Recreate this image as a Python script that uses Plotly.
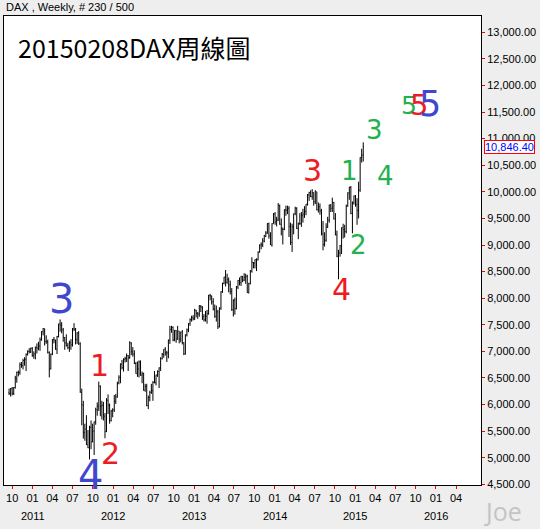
import pandas as pd
import plotly.graph_objects as go

# ---- weekly DAX bars (week ending Friday), 2010-09-17 .. 2015-02-06 ----
week_dates = pd.date_range("2010-09-17", "2015-02-06", freq="W-FRI")

opens = [
    # 2010
    6220, 6210, 6300, 6210, 6320, 6490, 6600, 6600, 6750, 6730, 6830, 6850, 6950, 7000, 6990, 7060,
    # 2011
    6920, 6950, 7070, 7060, 7100, 7220, 7370, 7420, 7190, 7180, 6980, 6670, 6950, 7220, 7210, 7040, 7280, 7520, 7490, 7400,
    7260, 7160, 7110, 7070, 7160, 7120, 7420, 7410, 7220, 7340, 7140, 6220, 5990, 5470, 5540, 5240, 5180, 5570, 5300, 5500,
    5680, 5900, 5970, 6340, 5970, 5990, 5780, 5500, 6080, 5980, 5700, 5880,
    # 2012
    5900, 6060, 6140, 6400, 6510, 6760, 6690, 6850, 6860, 6920, 6880, 7160, 6990, 6950, 6770, 6580, 6670, 6800, 6550, 6580,
    6270, 6340, 5980, 6130, 6230, 6260, 6420, 6410, 6560, 6620, 6690, 6860, 6940, 7040, 6970, 6970, 7210, 7410, 7450, 7220,
    7390, 7230, 7380, 7230, 7360, 7160, 6950, 7310, 7400, 7520, 7600, 7630,
    # 2013
    7620, 7770, 7710, 7700, 7850, 7830, 7650, 7590, 7660, 7710, 8050, 8040, 7930, 7790, 7660, 7740, 7460, 7810, 8120, 8280,
    8400, 8300, 8340, 8250, 8120, 7780, 7960, 7800, 8210, 8330, 8290, 8400, 8340, 8390, 8410, 8100, 8270, 8510, 8670, 8660,
    8720, 8720, 8860, 9000, 9000, 9070, 9160, 9220, 9400, 9170, 9000, 9400,
    # 2014
    9580, 9430, 9470, 9740, 9390, 9300, 9290, 9660, 9650, 9690, 9350, 9050, 9340, 9590, 9690, 9310, 9400, 9400, 9550, 9580,
    9630, 9770, 9940, 9980, 9910, 9980, 9810, 10000, 9660, 9720, 9640, 9210, 9010, 9090, 9340, 9470, 9750, 9690, 9800, 9490,
    9190, 8790, 8850, 8990, 9330, 9290, 9250, 9730, 9980, 10080, 9590, 9790,
    # 2015
    9920, 9760, 9650, 10030, 10650, 10690,
]
highs = [
    6300, 6310, 6330, 6330, 6540, 6620, 6640, 6790, 6800, 6860, 6890, 6960, 7020, 7060, 7070, 7080,
    7000, 7090, 7150, 7180, 7260, 7380, 7440, 7430, 7300, 7220, 7000, 6960, 7230, 7270, 7220, 7290, 7520, 7600, 7550, 7440,
    7270, 7320, 7160, 7200, 7230, 7440, 7530, 7440, 7360, 7380, 7170, 6300, 6070, 5640, 5800, 5520, 5600, 5700, 5640, 5680,
    5940, 6040, 6430, 6360, 6070, 6050, 5840, 6120, 6190, 6020, 5900, 5930,
    6180, 6200, 6430, 6550, 6770, 6840, 6870, 6900, 6960, 6930, 7190, 7170, 7080, 7020, 6800, 6810, 6830, 6830, 6620, 6600,
    6390, 6390, 6170, 6260, 6390, 6440, 6630, 6560, 6640, 6700, 6890, 6970, 7040, 7080, 7010, 7220, 7480, 7480, 7470, 7400,
    7400, 7480, 7380, 7370, 7400, 7170, 7320, 7430, 7530, 7620, 7670, 7680,
    7800, 7780, 7740, 7870, 7870, 7850, 7700, 7760, 7780, 8060, 8080, 8050, 8000, 7880, 7860, 7780, 7830, 8130, 8290, 8400,
    8530, 8460, 8390, 8330, 8190, 7980, 8010, 8230, 8340, 8390, 8420, 8420, 8470, 8460, 8440, 8290, 8530, 8770, 8680, 8730,
    8750, 8880, 9010, 9050, 9130, 9190, 9260, 9410, 9420, 9240, 9410, 9600,
    9620, 9530, 9790, 9760, 9500, 9330, 9670, 9740, 9740, 9730, 9420, 9400, 9590, 9720, 9710, 9420, 9600, 9620, 9680, 9730,
    9770, 9960, 10000, 10030, 10050, 9990, 10030, 10000, 9800, 9780, 9680, 9450, 9240, 9410, 9530, 9760, 9770, 9890, 9810, 9600,
    9270, 8910, 9000, 9330, 9400, 9380, 9760, 9990, 10093, 10110, 9820, 9930,
    9940, 9880, 10190, 10650, 10810, 10930,
]
lows = [
    6180, 6150, 6170, 6180, 6300, 6410, 6530, 6560, 6690, 6660, 6730, 6630, 6920, 6960, 6970, 6900,
    6860, 6850, 6960, 7020, 7010, 7200, 7300, 7110, 7140, 6960, 6510, 6660, 6930, 7150, 7030, 6950, 7260, 7370, 7340, 7180,
    7030, 7090, 7040, 6990, 7030, 7090, 7380, 7130, 7140, 7120, 6220, 5610, 5360, 5320, 5240, 5180, 4966, 5160, 5290, 5050,
    5620, 5790, 5880, 5780, 5720, 5700, 5366, 5480, 5820, 5640, 5680, 5760,
    5860, 6010, 6130, 6380, 6400, 6660, 6620, 6790, 6800, 6630, 6860, 6930, 6900, 6760, 6580, 6520, 6510, 6540, 6400, 6260,
    6240, 5970, 5914, 6060, 6200, 6070, 6400, 6360, 6520, 6310, 6630, 6850, 6880, 6920, 6800, 6870, 7140, 7350, 7190, 7190,
    7160, 7220, 7150, 7170, 7130, 6930, 6940, 7280, 7360, 7480, 7560, 7580,
    7590, 7640, 7610, 7650, 7740, 7590, 7560, 7560, 7520, 7690, 7960, 7880, 7770, 7630, 7560, 7420, 7450, 7780, 8100, 8260,
    8220, 8270, 8110, 8070, 7760, 7655, 7690, 7790, 8170, 8240, 8230, 8300, 8320, 8270, 8100, 8090, 8260, 8480, 8560, 8560,
    8510, 8710, 8860, 8920, 8960, 9050, 9150, 9210, 9120, 9000, 8970, 9400,
    9380, 9350, 9450, 9380, 9180, 9010, 9280, 9550, 9580, 9150, 9000, 8870, 9200, 9560, 9300, 9110, 9380, 9340, 9420, 9510,
    9560, 9740, 9830, 9900, 9850, 9740, 9770, 9650, 9610, 9570, 9180, 8900, 8970, 9060, 9320, 9420, 9620, 9620, 9480, 9180,
    8770, 8355, 8780, 8830, 9120, 9140, 9220, 9720, 9850, 9580, 9220, 9760,
    9720, 9380, 9500, 10000, 10550, 10570,
]
closes = [
    6209, 6299, 6211, 6315, 6496, 6605, 6601, 6751, 6739, 6828, 6849, 6947, 6998, 6990, 7057, 6914,
    6948, 7076, 7062, 7102, 7216, 7371, 7426, 7185, 7178, 6982, 6664, 6946, 7217, 7217, 7040, 7280, 7514, 7492, 7409, 7263,
    7160, 7109, 7069, 7164, 7121, 7419, 7419, 7220, 7345, 7158, 6236, 5997, 5480, 5538, 5246, 5190, 5574, 5295, 5502, 5675,
    5900, 5970, 6346, 5966, 5986, 5800, 5493, 6080, 5987, 5702, 5878, 5898,
    6057, 6143, 6404, 6512, 6766, 6692, 6849, 6865, 6922, 6880, 7158, 6995, 6947, 6775, 6583, 6671, 6801, 6562, 6579, 6271,
    6339, 5978, 6130, 6229, 6263, 6416, 6410, 6557, 6630, 6689, 6865, 6945, 7041, 6972, 6970, 7214, 7412, 7451, 7216, 7398,
    7233, 7380, 7231, 7364, 7163, 6950, 7309, 7405, 7518, 7597, 7636, 7612,
    7776, 7716, 7702, 7857, 7833, 7652, 7593, 7661, 7708, 8058, 8043, 7932, 7795, 7659, 7745, 7459, 7815, 8122, 8279, 8398,
    8305, 8349, 8254, 8128, 7789, 7959, 7806, 8212, 8332, 8292, 8403, 8338, 8391, 8416, 8104, 8275, 8510, 8675, 8661, 8725,
    8724, 8867, 9001, 9009, 9078, 9168, 9225, 9405, 9172, 9006, 9400, 9589,
    9435, 9473, 9742, 9392, 9306, 9289, 9662, 9656, 9692, 9351, 9056, 9342, 9587, 9695, 9315, 9409, 9402, 9556, 9581, 9630,
    9768, 9943, 9987, 9913, 9987, 9815, 10009, 9666, 9720, 9644, 9210, 9010, 9092, 9339, 9470, 9748, 9691, 9799, 9490, 9195,
    8788, 8850, 8988, 9327, 9291, 9252, 9733, 9980, 10087, 9594, 9787, 9922,
    9765, 9648, 10032, 10649, 10694, 10846.40,
]

last_price = 10846.40

# ---- axis ticks ----
x_tick_dates = ["2010-10-01",
                "2011-01-01", "2011-04-01", "2011-07-01", "2011-10-01",
                "2012-01-01", "2012-04-01", "2012-07-01", "2012-10-01",
                "2013-01-01", "2013-04-01", "2013-07-01", "2013-10-01",
                "2014-01-01", "2014-04-01", "2014-07-01", "2014-10-01",
                "2015-01-01", "2015-04-01", "2015-07-01", "2015-10-01",
                "2016-01-01", "2016-04-01"]
x_tick_months = ["10",
                 "01", "04", "07", "10",
                 "01", "04", "07", "10",
                 "01", "04", "07", "10",
                 "01", "04", "07", "10",
                 "01", "04", "07", "10",
                 "01", "04"]
year_label_dates = ["2011-01-01", "2012-01-01", "2013-01-01", "2014-01-01", "2015-01-01", "2016-01-01"]
year_labels = ["2011", "2012", "2013", "2014", "2015", "2016"]
y_tick_values = [4500, 5000, 5500, 6000, 6500, 7000, 7500, 8000, 8500, 9000,
                 9500, 10000, 10500, 11000, 11500, 12000, 12500, 13000]

# ---- Elliott-wave labels: (text, colour name) ----
wave_texts = ["3", "1", "2", "4", "3", "4", "1", "2", "3", "4", "5", "5", "5"]
wave_colours = ["blue", "red", "red", "blue", "red", "red",
                "green", "green", "green", "green", "green", "red", "blue"]

PALETTE = {"red": "#ED1C24", "green": "#22B14C", "blue": "#3F48CC"}

fig = go.Figure()
fig.add_trace(go.Ohlc(
    x=week_dates, open=opens, high=highs, low=lows, close=closes,
    increasing=dict(line=dict(color="black", width=1)),
    decreasing=dict(line=dict(color="black", width=1)),
    tickwidth=0.4, hoverinfo="skip", showlegend=False,
))

# label placement (date, price, font size)
wave_pos = [
    ("2011-05-10", 7990, 40),
    ("2011-11-01", 6726, 30),
    ("2011-12-21", 5072, 30),
    ("2011-09-22", 4680, 40),
    ("2014-06-23", 10392, 30),
    ("2014-11-01", 8155, 30),
    ("2014-12-05", 10392, 26),
    ("2015-01-17", 9001, 26),
    ("2015-03-28", 11163, 26),
    ("2015-05-17", 10289, 26),
    ("2015-09-03", 11614, 25),
    ("2015-10-18", 11624, 29),
    ("2015-12-06", 11643, 35),
]
annotations = []
for (d, v, s), t, c in zip(wave_pos, wave_texts, wave_colours):
    annotations.append(dict(
        x=d, y=v, xref="x", yref="y", text=t, showarrow=False,
        xanchor="center", yanchor="middle",
        font=dict(family="DejaVu Sans", size=s, color=PALETTE[c]),
    ))

PLOT_L, PLOT_R, PLOT_T, PLOT_B = 4, 481, 16, 485
W, H = 540, 529


def px(xp):
    return (xp - PLOT_L) / (PLOT_R - PLOT_L)


def py(yp):
    return (PLOT_B - yp) / (PLOT_B - PLOT_T)


for d, t in zip(year_label_dates, year_labels):
    annotations.append(dict(
        x=d, y=py(516), xref="x", yref="paper", text=t, showarrow=False,
        xanchor="center", yanchor="middle",
        font=dict(family="Liberation Sans", size=11, color="black"),
    ))

annotations += [
    dict(x=px(4), y=py(7), xref="paper", yref="paper", xanchor="left", yanchor="middle",
         text="DAX , Weekly, # 230 / 500", showarrow=False,
         font=dict(family="Liberation Sans", size=11, color="black")),
    dict(x=px(16), y=py(47), xref="paper", yref="paper", xanchor="left", yanchor="middle",
         text="20150208DAX周線圖", showarrow=False,
         font=dict(family="Noto Sans CJK TC", size=25, color="black")),
    dict(x=px(484), y=last_price, xref="paper", yref="y", xanchor="left", yanchor="middle",
         text=f"{last_price:,.2f}", showarrow=False,
         font=dict(family="Liberation Sans", size=11, color="#0000FF"),
         bgcolor="white", bordercolor="red", borderwidth=1, borderpad=0),
    dict(x=px(503), y=py(511), xref="paper", yref="paper", xanchor="center", yanchor="middle",
         text="Joe", showarrow=False,
         font=dict(family="Open Sans", size=25, color="#C4C4C4")),
]

fig.update_layout(
    width=W, height=H,
    margin=dict(l=PLOT_L, r=W - PLOT_R, t=PLOT_T, b=H - PLOT_B),
    paper_bgcolor="#EEEEEE", plot_bgcolor="white",
    showlegend=False,
    annotations=annotations,
    xaxis=dict(
        type="date", range=["2010-08-25", "2016-07-23"],
        rangeslider=dict(visible=False),
        tickmode="array", tickvals=x_tick_dates, ticktext=x_tick_months,
        tickangle=0,
        ticks="outside", ticklen=3, tickcolor="red", tickwidth=1,
        showline=True, linecolor="black", linewidth=1, mirror=True,
        showgrid=False, zeroline=False,
        tickfont=dict(family="Liberation Sans", size=11, color="black"),
    ),
    yaxis=dict(
        side="right", range=[4487, 13306],
        tickmode="array", tickvals=y_tick_values,
        tickformat=",.2f",
        ticks="outside", ticklen=3, tickcolor="red", tickwidth=1,
        showline=True, linecolor="black", linewidth=1, mirror=True,
        showgrid=False, zeroline=False,
        tickfont=dict(family="Liberation Sans", size=11, color="black"),
    ),
)

fig.write_html("out.html")
